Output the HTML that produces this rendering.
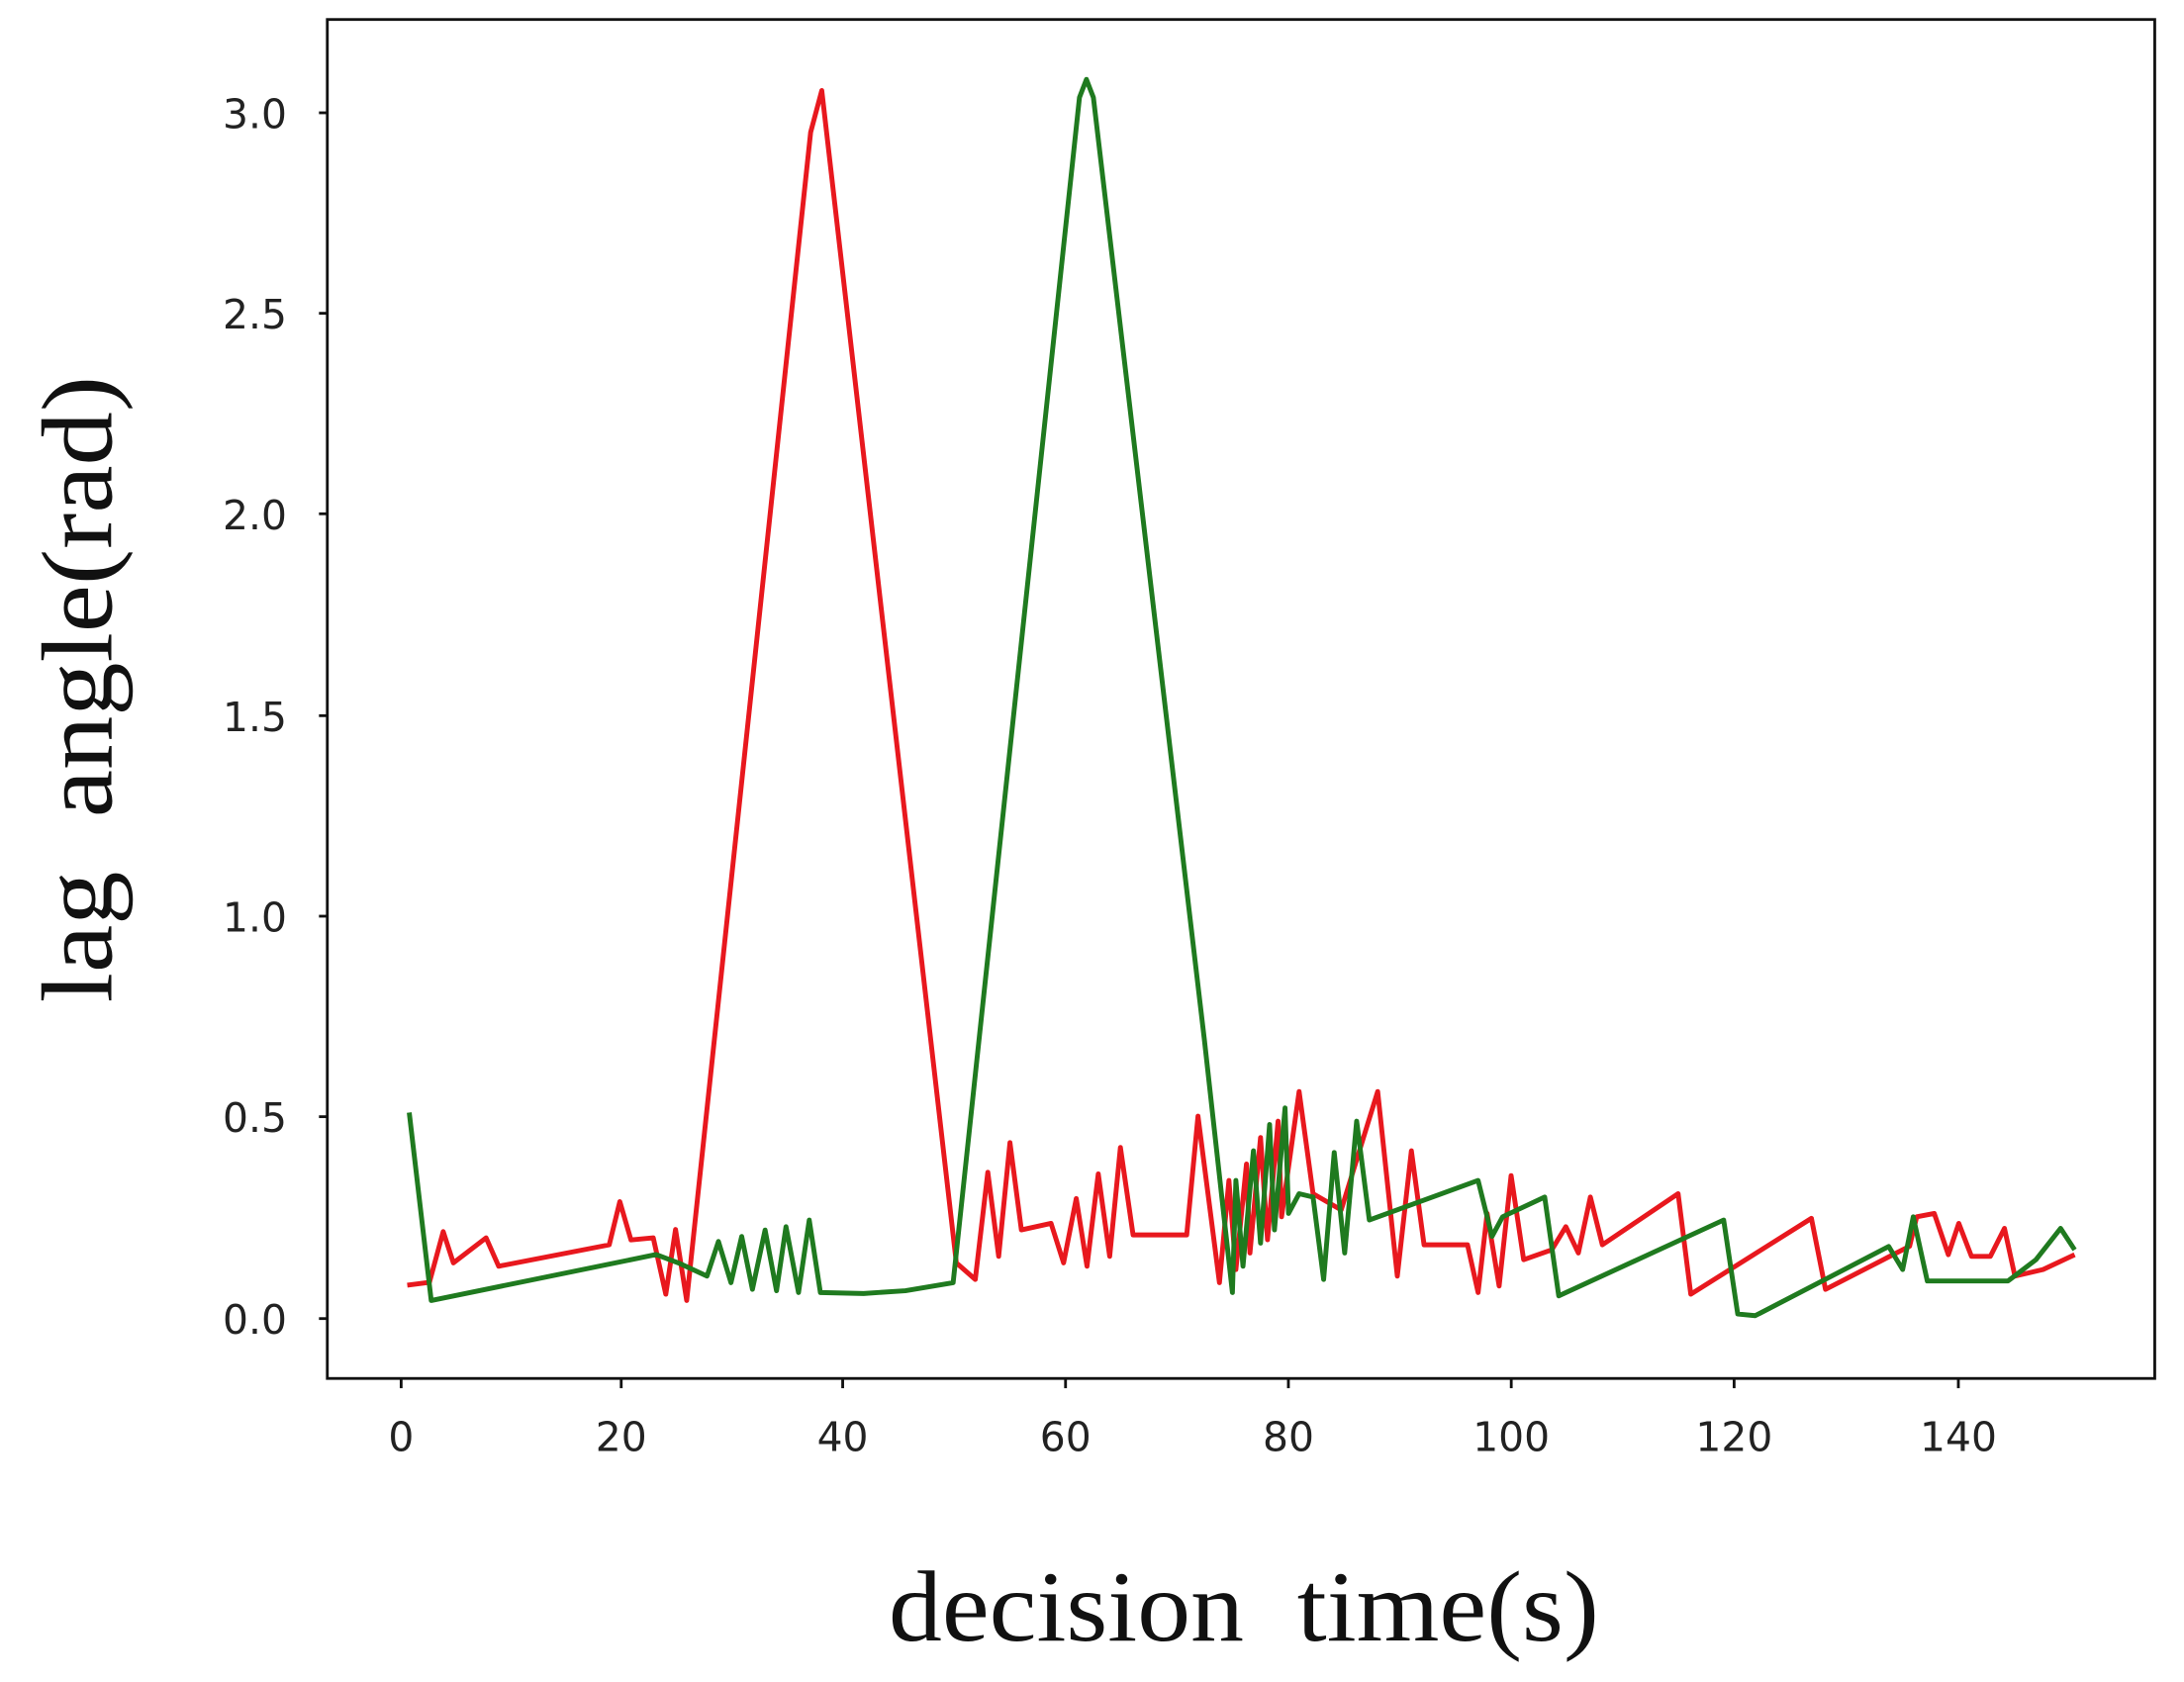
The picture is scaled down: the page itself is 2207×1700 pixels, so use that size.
<!DOCTYPE html>
<html><head><meta charset="utf-8"><style>
html,body{margin:0;padding:0;background:#fff;}
svg{display:block;}
</style></head><body>
<svg width="2207" height="1700" viewBox="0 0 1568 1208" preserveAspectRatio="none" xmlns="http://www.w3.org/2000/svg">
<rect width="1568" height="1208" fill="#fff"/>
<g font-family="DejaVu Sans, Liberation Sans, sans-serif" font-size="29" fill="#222">
<g text-anchor="end">
<text x="206" y="92">3.0</text>
<text x="206" y="236">2.5</text>
<text x="206" y="380">2.0</text>
<text x="206" y="525">1.5</text>
<text x="206" y="669">1.0</text>
<text x="206" y="813">0.5</text>
<text x="206" y="958">0.0</text>
</g>
<g text-anchor="middle">
<text x="288" y="1042">0</text>
<text x="446" y="1042">20</text>
<text x="605" y="1042">40</text>
<text x="765" y="1042">60</text>
<text x="925" y="1042">80</text>
<text x="1085" y="1042">100</text>
<text x="1245" y="1042">120</text>
<text x="1406" y="1042">140</text>
</g>
</g>
<g stroke="#111" stroke-width="2">
<line x1="229" y1="81" x2="235" y2="81"/><line x1="229" y1="225" x2="235" y2="225"/>
<line x1="229" y1="369" x2="235" y2="369"/><line x1="229" y1="514" x2="235" y2="514"/>
<line x1="229" y1="658" x2="235" y2="658"/><line x1="229" y1="802" x2="235" y2="802"/>
<line x1="229" y1="947" x2="235" y2="947"/>
<line x1="288" y1="990" x2="288" y2="997"/><line x1="446" y1="990" x2="446" y2="997"/>
<line x1="605" y1="990" x2="605" y2="997"/><line x1="765" y1="990" x2="765" y2="997"/>
<line x1="925" y1="990" x2="925" y2="997"/><line x1="1085" y1="990" x2="1085" y2="997"/>
<line x1="1245" y1="990" x2="1245" y2="997"/><line x1="1406" y1="990" x2="1406" y2="997"/>
</g>
<rect x="235" y="14" width="1312" height="976" fill="none" stroke="#111" stroke-width="2"/>
<polyline fill="none" stroke="#e8181e" stroke-width="3.5" stroke-linejoin="round" points="292.4,923 308.3,921 318.2,884.5 325.5,907 349,889 358,909.4 437.4,894 445,863 453,890.5 469,889 478,929.5 485,883 493,934 582,95 590,65 686.6,907 700.2,918.9 709.2,841.9 717,902.3 725.1,820.6 733.3,883.3 754.6,878.6 763.6,907 772.7,860.8 780.4,909.4 788.5,843.1 796.7,902.3 804.4,824.1 813.5,886.9 852,886.9 860.1,801.6 875.5,921.2 882.3,847.8 887.3,911.8 894.9,836 897.4,899.9 905,817 910,890.4 917.6,805.2 920.1,873.9 932.7,783.9 942.7,857.3 962.9,869 989.1,783.9 1003.2,916.5 1013.3,826.5 1022.4,894 1053.6,894 1061.2,928.3 1067.7,871.5 1076.3,923.6 1084.9,844.3 1093.9,904.7 1114.1,897.6 1124.2,881 1133.2,899.9 1141.8,859.7 1150.4,894 1204.8,857.3 1213.9,929.5 1300.5,875 1310.6,926 1371,895 1376.1,873.9 1388.7,871.5 1398.8,901.1 1406.3,878.6 1415.4,902.3 1429,902.3 1439.1,882.2 1446.6,916.5 1466.8,911.8 1489.5,901.1"/>
<polyline fill="none" stroke="#1f7a1f" stroke-width="3.5" stroke-linejoin="round" points="293.8,799 309.6,934 471,901 487,907 507.6,916.5 515.8,891.6 524.8,921.2 532.5,888 540.2,926 549.3,883.4 557.5,927 564.3,881 573.3,928.3 581,876.2 589,928.3 620,929 650,927 684.3,921.2 775,70 780,57 785,70 864.6,746 884.8,928.3 887.3,847.8 892.4,909.4 899.9,826.5 905,892.8 911.5,807.6 915,883.3 922.6,795.7 925.1,871.5 932.7,857.3 942.7,859.7 950.3,918.9 957.9,827.7 965.4,899.9 974,805.2 983.1,876.2 1061.2,847.8 1071.2,888 1078.8,873.9 1109,859.7 1119.1,930.7 1237.5,876.2 1247.6,943.7 1260.2,944.9 1356,895.2 1366,911.8 1373.6,873.9 1383.7,920 1441.6,920 1461.7,904.7 1479.4,882.2 1489.5,897.6"/>
<text transform="translate(80,495) rotate(-90)" text-anchor="middle" font-family="Liberation Serif, DejaVu Serif, serif" font-size="72" fill="#111" textLength="450" lengthAdjust="spacingAndGlyphs" xml:space="preserve">lag  angle(rad)</text>
<text x="893" y="1178" text-anchor="middle" font-family="Liberation Serif, DejaVu Serif, serif" font-size="72" fill="#111" textLength="510" lengthAdjust="spacingAndGlyphs" xml:space="preserve">decision  time(s)</text>
</svg>
</body></html>
